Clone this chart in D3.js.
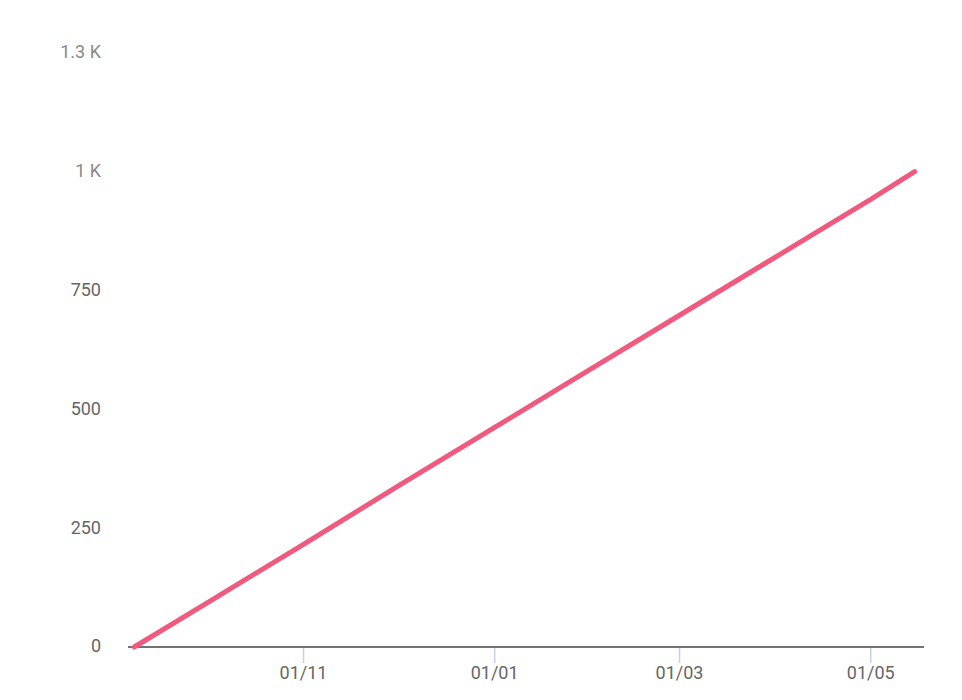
<!DOCTYPE html>
<html>
<head>
<meta charset="utf-8">
<script src="https://cdn.jsdelivr.net/npm/d3@7"></script>
<style>
  html, body { margin: 0; padding: 0; background: #ffffff; }
  svg { display: block; font-family: Roboto, "Noto Sans", Arial, sans-serif; }
</style>
</head>
<body>
<div id="chart"></div>
<script>
// cumulative series (date, value)
const dates = ['2020-09-08', '2020-10-01', '2020-11-01', '2020-12-01', '2021-01-01',
               '2021-02-01', '2021-03-01', '2021-04-01', '2021-05-01', '2021-05-15'];
const values = [0, 92, 216, 338, 462, 586, 698, 822, 942, 1000];

const yTicks = [0, 250, 500, 750, 1000, 1250];
const yTickLabels = ['0', '250', '500', '750', '1 K', '1.3 K'];
const xTicks = ['2020-11-01', '2021-01-01', '2021-03-01', '2021-05-01'];
const xTickLabels = ['01/11', '01/01', '01/03', '01/05'];

const W = 962, H = 700;
const parse = d3.utcParse('%Y-%m-%d');
const data = dates.map((d, i) => ({ date: parse(d), value: values[i] }));

const svg = d3.select('#chart').append('svg')
  .attr('width', W).attr('height', H);

const x = d3.scaleUtc()
  .domain([parse('2020-09-06'), parse('2021-05-18')])
  .range([128, 924]);

const y = d3.scaleLinear()
  .domain([0, 1300])
  .range([647, 647 - 1300 * 0.4753]);

// y labels (no axis line, no gridlines)
svg.append('g').selectAll('text')
  .data(yTicks).enter().append('text')
  .attr('x', 101)
  .attr('y', d => y(d))
  .attr('dy', '0.3em')
  .attr('text-anchor', 'end')
  .attr('font-size', 18)
  .attr('fill', d => d >= 1000 ? '#8a8a8a' : '#666')
  .text((d, i) => yTickLabels[i]);

// x ticks
const xg = svg.append('g');
xg.selectAll('line')
  .data(xTicks).enter().append('line')
  .attr('x1', d => x(parse(d))).attr('x2', d => x(parse(d)))
  .attr('y1', 648).attr('y2', 663)
  .attr('stroke', '#c9cfe3').attr('stroke-width', 1.5);

xg.selectAll('text')
  .data(xTicks).enter().append('text')
  .attr('x', d => x(parse(d)))
  .attr('y', 679)
  .attr('text-anchor', 'middle')
  .attr('font-size', 18)
  .attr('fill', '#666')
  .text((d, i) => xTickLabels[i]);

// baseline
svg.append('line')
  .attr('x1', x.range()[0]).attr('x2', x.range()[1])
  .attr('y1', y(0)).attr('y2', y(0))
  .attr('stroke', '#444').attr('stroke-width', 1.5);

// series line
const line = d3.line()
  .x(d => x(d.date))
  .y(d => y(d.value));

svg.append('path')
  .datum(data)
  .attr('d', line)
  .attr('fill', 'none')
  .attr('stroke', '#f05a7e')
  .attr('stroke-width', 5)
  .attr('stroke-linecap', 'round')
  .attr('stroke-linejoin', 'round');
</script>
</body>
</html>
